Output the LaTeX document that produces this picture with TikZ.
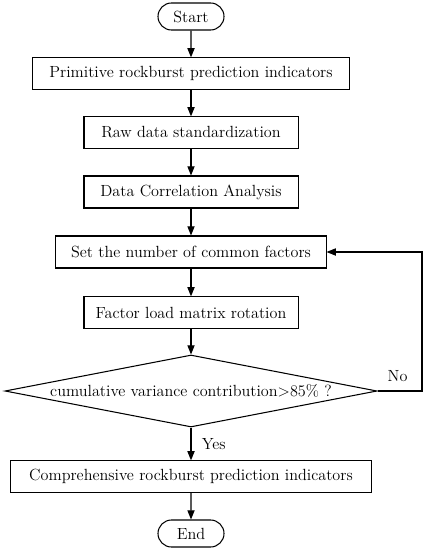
\documentclass[tikz,border=0pt]{standalone}
\usepackage{tikz}
\usetikzlibrary{arrows.meta, shapes.geometric, shapes.misc}

\begin{document}
\begin{tikzpicture}[x=0.025cm, y=-0.025cm, line width=0.75pt,
    font=\fontsize{11.5}{13}\selectfont,
    box/.style={draw, rectangle, inner sep=0pt, minimum height=0.78cm},
    term/.style={draw, rounded rectangle, inner sep=0pt, minimum width=1.65cm, minimum height=0.675cm},
    cond/.style={draw, diamond, inner sep=0pt, aspect=5.17, minimum width=9.3cm, minimum height=1.8cm},
    arr/.style={-{Triangle[length=2.3mm, width=1.8mm]}}]
        \useasboundingbox (0,0) rectangle (426,550);
        \node[term] (start) at (191,16.5) {Start};
        \node[box, minimum width=7.9cm] (prim) at (191,73.5) {Primitive rockburst prediction indicators};
        \node[box, minimum width=5.35cm] (raw) at (191,132.5) {Raw data standardization};
        \node[box, minimum width=5.35cm, minimum height=0.8cm] (corr) at (191,192) {Data Correlation Analysis};
        \node[box, minimum width=6.75cm, minimum height=0.8cm] (num) at (191,252) {Set the number of common factors};
        \node[box, minimum width=5.35cm] (rot) at (191,312.5) {Factor load matrix rotation};
        \node[cond] (cum) at (191,391) {cumulative variance contribution>85\% ?};
        \node[box, minimum width=9cm] (comp) at (191,476.5) {Comprehensive rockburst prediction indicators};
        \node[term] (end) at (191,533.5) {End};
        \coordinate (back) at (422,391);
        \draw[arr] (start) -- (prim);
        \draw[arr] (prim) -- (raw);
        \draw[arr] (raw) -- (corr);
        \draw[arr] (corr) -- (num);
        \draw[arr] (num) -- (rot);
        \draw[arr] (rot) -- (cum);
        \draw[arr] (cum) -- node[right, xshift=4pt]{Yes} (comp);
        \draw[arr] (comp) -- (end);
        \draw[arr] (cum.east) -- node[pos=0.45, above, yshift=3pt]{No} (back) |- (num.east);
      \end{tikzpicture}
\end{document}
